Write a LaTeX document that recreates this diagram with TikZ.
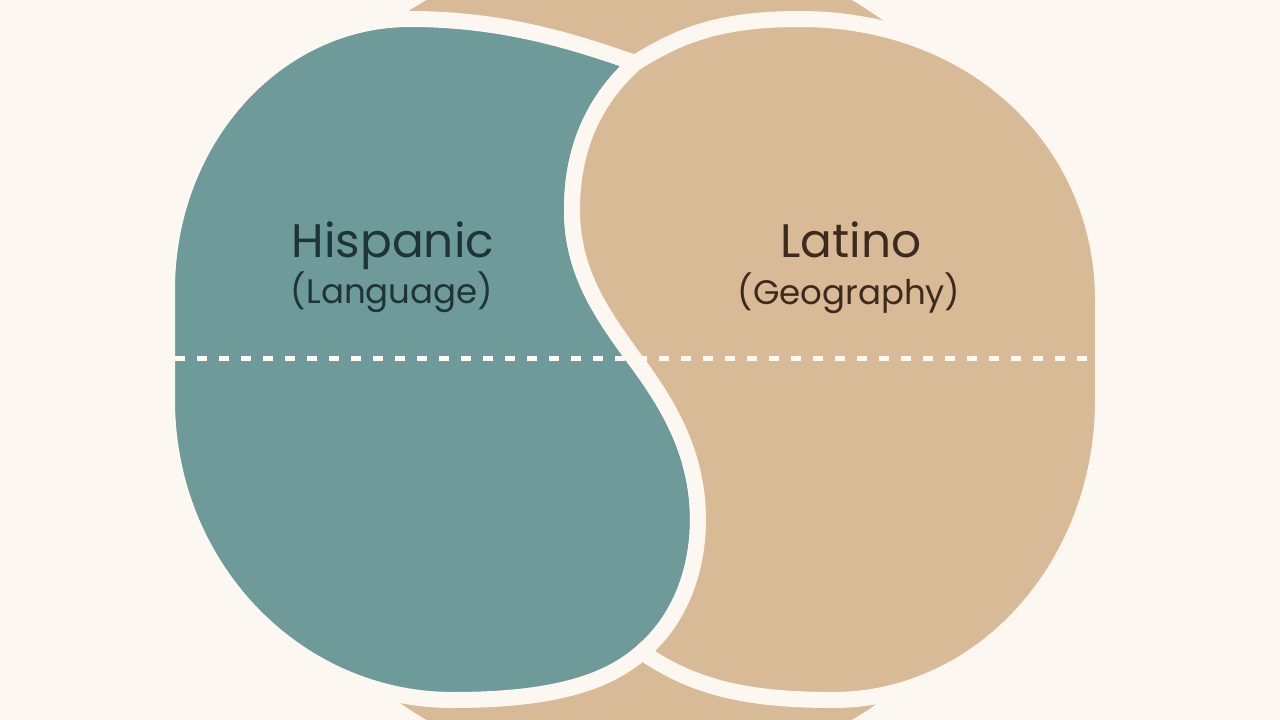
\documentclass[tikz,border=0pt]{standalone}
\usepackage{fontspec}
\setmainfont{Poppins}
\definecolor{bg}{HTML}{FCF8F1}
\definecolor{tealc}{HTML}{6E9B99}
\definecolor{tanc}{HTML}{D9BA96}
\definecolor{sep}{HTML}{FCF8F1}
\definecolor{dashc}{HTML}{FDFAF4}
\definecolor{tealtxt}{HTML}{1E3436}
\definecolor{browntxt}{HTML}{3B2A1D}
\begin{document}
\begin{tikzpicture}[x=1pt,y=-1pt,
  blob/.style={line width=16pt, draw=sep, line join=round},
  bigtxt/.style={font=\fontsize{47}{57}\selectfont, anchor=base, inner sep=0pt},
  smalltxt/.style={font=\fontsize{34}{41}\selectfont, anchor=base, inner sep=0pt},
  divider/.style={draw=dashc, line width=5pt, dash pattern=on 10pt off 12pt}]
\fill[bg] (0,0) rectangle (1280,720);
\useasboundingbox (0,0) rectangle (1280,720);
\begin{scope}
\clip (0,0) rectangle (1280,720);
\fill[tanc] (639,360) circle[radius=418pt];
\coordinate (J1) at (635,63);
\coordinate (J2) at (642,652);
% teal (Hispanic) region
\filldraw[blob, fill=tealc] (J1) .. controls (570,40) and (500,19) .. (410,19)
  .. controls (276,19) and (167,140) .. (167,290) -- (167,400)
  .. controls (167,566) and (295,700) .. (453,700)
  .. controls (560,700) and (610,680) .. (J2)
  .. controls (680,620) and (698,570) .. (698,520)
  .. controls (698,450) and (665,400) .. (634,358)
  .. controls (600,312) and (572,270) .. (572,210)
  .. controls (572,140) and (600,95) .. (J1) -- cycle;
% tan (Latino) region
\filldraw[blob, fill=tanc] (J1) .. controls (680,35) and (720,19) .. (800,19)
  .. controls (975,19) and (1103,142) .. (1103,300) -- (1103,400)
  .. controls (1103,566) and (982,700) .. (833,700)
  .. controls (740,700) and (690,685) .. (J2)
  .. controls (680,620) and (698,570) .. (698,520)
  .. controls (698,450) and (665,400) .. (634,358)
  .. controls (600,312) and (572,270) .. (572,210)
  .. controls (572,140) and (600,95) .. (J1) -- cycle;
\end{scope}
\coordinate (dl) at (175,358);
\coordinate (dr) at (1095,358);
\draw[divider] (dl) -- (dr);
\node[bigtxt, text=tealtxt] (hisp) at (393,257) {Hispanic};
\node[smalltxt, text=tealtxt] (lang) at (392,303) {(Language)};
\node[bigtxt, text=browntxt] (lat) at (851,257) {Latino};
\node[smalltxt, text=browntxt] (geo) at (849,304) {(Geography)};
\end{tikzpicture}
\end{document}
